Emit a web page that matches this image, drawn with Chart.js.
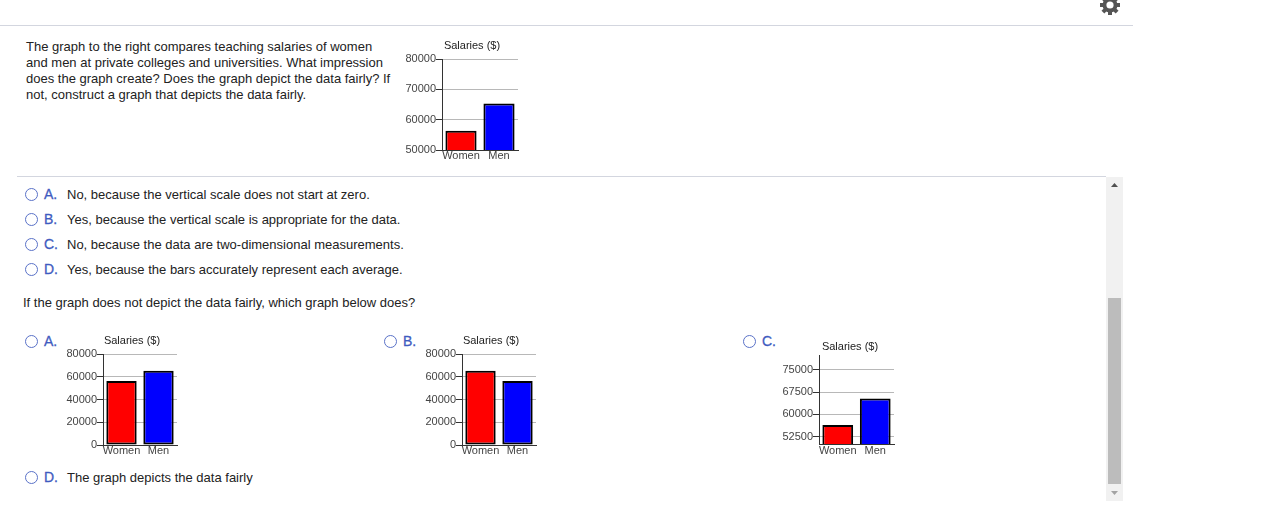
<!DOCTYPE html>
<html>
<head>
<meta charset="utf-8">
<script src="https://cdn.jsdelivr.net/npm/chart.js@4"></script>
<style>
html, body { margin: 0; padding: 0; background: #fff; overflow: hidden; }
body { width: 1265px; height: 514px; position: relative; font-family: "Liberation Sans", Arial, sans-serif; color: #222; }
.abs { position: absolute; white-space: nowrap; }
canvas { position: absolute; }
.rule { position: absolute; height: 1px; background: #d3d6df; }
.radio { position: absolute; width: 11px; height: 11px; border: 1.3px solid #5a72c8; border-radius: 50%; background: #fff; }
.letter { position: absolute; font-size: 14px; line-height: 16px; color: #3f5bc0; -webkit-text-stroke: 0.3px #3f5bc0; }
.txt { position: absolute; font-size: 13px; line-height: 16px; white-space: nowrap; }
</style>
</head>
<body>
<div class="rule" style="left:0;top:25px;width:1133px"></div>
<svg class="abs" style="left:1098px;top:0" width="24" height="18" viewBox="0 0 24 18">
  <g fill="#555">
    <circle cx="12" cy="5" r="7.5"/>
    <rect x="10" y="-5" width="4" height="20"/>
    <rect x="2" y="3" width="20" height="4"/>
    <rect x="10" y="-5" width="4" height="20" transform="rotate(45 12 5)"/>
    <rect x="10" y="-5" width="4" height="20" transform="rotate(-45 12 5)"/>
  </g>
  <circle cx="12" cy="5" r="3.6" fill="#fff"/>
</svg>

<div class="abs" style="left:26px;top:39px;font-size:13px;line-height:16px;" id="question">The graph to the right compares teaching salaries of women<br>and men at private colleges and universities. What impression<br>does the graph create? Does the graph depict the data fairly? If<br>not, construct a graph that depicts the data fairly.</div>

<div class="rule" style="left:17px;top:176px;width:1089px"></div>

<div class="radio" style="left:25px;top:188px"></div><div class="letter" style="left:44px;top:186px">A.</div><div class="txt" style="left:67px;top:187px">No, because the vertical scale does not start at zero.</div>
<div class="radio" style="left:25px;top:213px"></div><div class="letter" style="left:44px;top:211px">B.</div><div class="txt" style="left:67px;top:212px">Yes, because the vertical scale is appropriate for the data.</div>
<div class="radio" style="left:25px;top:238px"></div><div class="letter" style="left:44px;top:236px">C.</div><div class="txt" style="left:67px;top:237px">No, because the data are two-dimensional measurements.</div>
<div class="radio" style="left:25px;top:263px"></div><div class="letter" style="left:44px;top:261px">D.</div><div class="txt" style="left:67px;top:262px">Yes, because the bars accurately represent each average.</div>

<div class="txt" style="left:23px;top:295px">If the graph does not depict the data fairly, which graph below does?</div>

<div class="radio" style="left:25px;top:335px"></div><div class="letter" style="left:44px;top:333px">A.</div>
<div class="radio" style="left:384px;top:335px"></div><div class="letter" style="left:403px;top:333px">B.</div>
<div class="radio" style="left:743px;top:335px"></div><div class="letter" style="left:762px;top:333px">C.</div>
<div class="radio" style="left:25px;top:471px"></div><div class="letter" style="left:44px;top:469px">D.</div><div class="txt" style="left:67px;top:470px">The graph depicts the data fairly</div>

<div class="abs" style="left:1106px;top:177px;width:17px;height:324px;background:#f1f1f1"></div>
<div class="abs" style="left:1108px;top:298px;width:13px;height:186px;background:#bcbcbc"></div>
<svg class="abs" style="left:1106px;top:177px" width="17" height="324">
  <path d="M5 10 L12 10 L8.5 6 Z" fill="#505050"/>
  <path d="M5 314 L12 314 L8.5 318 Z" fill="#a3a3a3"/>
</svg>

<canvas id="chartMain" style="left:400px;top:39px" width="144" height="127"></canvas>
<canvas id="chartA" style="left:60px;top:334px" width="144" height="127"></canvas>
<canvas id="chartB" style="left:419px;top:334px" width="144" height="127"></canvas>
<canvas id="chartC" style="left:778px;top:340px" width="144" height="120"></canvas>

<script>
var categories = ['Women', 'Men'];
var salaries = [56400, 65400];
var swappedSalaries = [65400, 56400];
var barColors = ['#ff0000', '#0000ff'];
var titleText = 'Salaries ($)';
var mainTicks = [50000, 60000, 70000, 80000];
var zeroTicks = [0, 20000, 40000, 60000, 80000];
var offsetTicks = [52500, 60000, 67500, 75000];

Chart.defaults.font.family = '"Liberation Sans", Arial, sans-serif';
Chart.defaults.font.size = 11;

// left/right are the room kept beside the plot, gap is title to plot top
function drawChart(id, values, tickList, yMin, yMax, left, right, gap, labelPad) {
    var ctx = document.getElementById(id).getContext('2d');
    return new Chart(ctx, {
        type: 'bar',
        data: {
            labels: categories,
            datasets: [{
                data: values,
                backgroundColor: barColors,
                borderColor: '#000',
                borderWidth: 2,
                borderSkipped: false,
                barPercentage: 0.82,
                categoryPercentage: 1
            }]
        },
        options: {
            responsive: false,
            animation: false,
            devicePixelRatio: 1,
            plugins: {
                legend: { display: false },
                tooltip: { enabled: false },
                title: {
                    display: true,
                    text: titleText,
                    color: '#222',
                    font: { size: 11, weight: 'normal' },
                    padding: { top: 0, bottom: gap }
                }
            },
            scales: {
                x: {
                    grid: { drawOnChartArea: false, drawTicks: false },
                    border: { color: '#333' },
                    ticks: { color: '#444', padding: labelPad, maxRotation: 0, autoSkip: false, font: { size: 11 } },
                    afterFit: function (scale) {
                        scale.height = 16;
                        scale.paddingRight = right;
                        scale.paddingLeft = 0;
                    }
                },
                y: {
                    min: yMin,
                    max: yMax,
                    grid: { color: '#b8b8b8', tickColor: '#333', tickLength: 6 },
                    border: { color: '#333' },
                    ticks: {
                        color: '#444',
                        padding: 0,
                        font: { size: 11 },
                        callback: function (v) { return String(v); }
                    },
                    afterBuildTicks: function (scale) {
                        scale.ticks = tickList.map(function (v) { return { value: v }; });
                    },
                    afterFit: function (scale) { scale.width = left; }
                }
            }
        }
    });
}

drawChart('chartMain', salaries, mainTicks, 50000, 80000, 42, 26, 7, -1);
drawChart('chartA', salaries, zeroTicks, 0, 80000, 43, 27, 7, -1);
drawChart('chartB', swappedSalaries, zeroTicks, 0, 80000, 43, 27, 7, -1);
drawChart('chartC', salaries, offsetTicks, 50000, 80000, 41, 28, 2, 0);
</script>
</body>
</html>
